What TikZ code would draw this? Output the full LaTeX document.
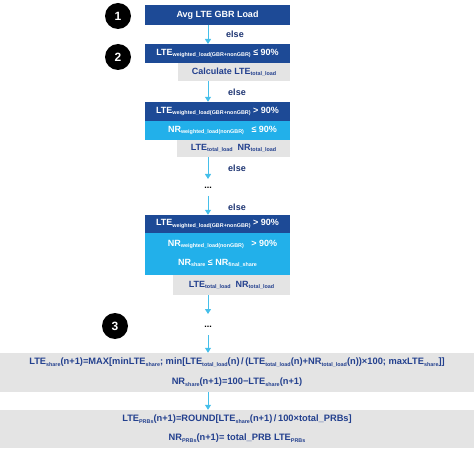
\documentclass[tikz,border=0pt]{standalone}
\usepackage{fontspec}
\setmainfont{Liberation Sans}
\usetikzlibrary{arrows.meta}
\definecolor{dblue}{HTML}{1D4A96}
\definecolor{lblue}{HTML}{22B0EA}
\definecolor{gbox}{HTML}{E4E4E4}
\definecolor{tblue}{HTML}{23408E}
\definecolor{arrc}{HTML}{45BFEA}
\newcommand{\sbs}[1]{\raisebox{-1.2pt}{\fontsize{5.4}{5}\selectfont #1}}
\begin{document}
\begin{tikzpicture}[x=1pt,y=-1pt,
  darkbox/.style={fill=dblue, text=white, font=\bfseries\fontsize{9}{10}\selectfont, inner sep=0pt, minimum width=145pt},
  lightbox/.style={fill=lblue, text=white, font=\bfseries\fontsize{9}{10}\selectfont, inner sep=0pt, minimum width=145pt},
  graybox/.style={fill=gbox, text=tblue, font=\bfseries\fontsize{9}{10}\selectfont, inner sep=0pt},
  widebox/.style={fill=gbox, text=tblue, font=\bfseries\fontsize{9.3}{10}\selectfont, inner sep=0pt, minimum width=474pt, align=center},
  numc/.style={circle, fill=black, text=white, font=\bfseries\fontsize{12}{12}\selectfont, minimum size=26pt, inner sep=0pt},
  elsel/.style={text=tblue!80!black, font=\bfseries\fontsize{9}{10}\selectfont, inner sep=0pt},
  dotsl/.style={font=\bfseries\fontsize{9}{10}\selectfont, inner sep=0pt},
  flow/.style={draw=arrc, line width=1pt, -{Triangle[length=5pt,width=6pt]}}]
\path[use as bounding box] (0,0) rectangle (474,457);

\node[numc] (c1) at (118,16) {1};
\node[numc] (c2) at (118,57) {2};
\node[numc] (c3) at (115,326) {3};

\node[darkbox, minimum height=20pt] (b1) at (217.5,15) {Avg LTE GBR Load};
\node[darkbox, minimum height=19pt] (b2) at (217.5,53.5) {LTE\sbs{weighted\_load(GBR+nonGBR)} ≤ 90\%};
\node[graybox, minimum width=112pt, minimum height=18pt] (g2) at (234,72) {Calculate LTE\sbs{total\_load}};

\node[darkbox, minimum height=19pt] (b3) at (217.5,111.5) {LTE\sbs{weighted\_load(GBR+nonGBR)} > 90\%};
\node[lightbox, minimum height=19pt] (l3) at (217.5,130.5) {\hspace{10pt}NR\sbs{weighted\_load(nonGBR)}\hspace{5pt} ≤ 90\%};
\node[graybox, minimum width=113pt, minimum height=17pt] (g3) at (233.5,148.5) {LTE\sbs{total\_load}\hspace{5pt}NR\sbs{total\_load}};

\node[dotsl] (d1) at (208,188) {...};

\node[darkbox, minimum height=18pt] (b4) at (217.5,224) {LTE\sbs{weighted\_load(GBR+nonGBR)} > 90\%};
\node[lightbox, minimum height=42pt, align=center] (l4) at (217.5,254) {\hspace{10pt}NR\sbs{weighted\_load(nonGBR)}\hspace{5pt} > 90\%\\[9pt]NR\sbs{share} ≤ NR\sbs{final\_share}};
\node[graybox, minimum width=117pt, minimum height=20pt] (g4) at (231.5,285) {LTE\sbs{total\_load}\hspace{5pt}NR\sbs{total\_load}};

\node[dotsl] (d2) at (208,327) {...};

\node[widebox, minimum height=39pt] (w1) at (237,372.5) {LTE\sbs{share}(n+1)=MAX[minLTE\sbs{share}; min[LTE\sbs{total\_load}(n)\,/\,(LTE\sbs{total\_load}(n)+NR\sbs{total\_load}(n))×100; maxLTE\sbs{share}]]\\[10pt]NR\sbs{share}(n+1)=100−LTE\sbs{share}(n+1)};
\node[widebox, minimum height=38pt] (w2) at (237,429) {LTE\sbs{PRBs}(n+1)=ROUND[LTE\sbs{share}(n+1)\,/\,100×total\_PRBs]\\[9pt]NR\sbs{PRBs}(n+1)= total\_PRB LTE\sbs{PRBs}};

\node[elsel] (e1) at (235,34) {else};
\node[elsel] (e2) at (237,92) {else};
\node[elsel] (e3) at (237,168) {else};
\node[elsel] (e4) at (237,207) {else};

\coordinate (a1) at (208,25);
\coordinate (a2) at (208,44);
\coordinate (t1) at (208,179);
\coordinate (s1) at (208,196);
\coordinate (t2) at (208,314);
\coordinate (s2) at (208,335);
\draw[flow] (a1) -- (a2);
\draw[flow] (g2.south -| a1) -- (b3.north -| a1);
\draw[flow] (g3.south -| a1) -- (t1);
\draw[flow] (s1) -- (b4.north -| a1);
\draw[flow] (g4.south -| a1) -- (t2);
\draw[flow] (s2) -- (w1.north -| a1);
\draw[flow] (w1.south -| a1) -- (w2.north -| a1);
\end{tikzpicture}
\end{document}
